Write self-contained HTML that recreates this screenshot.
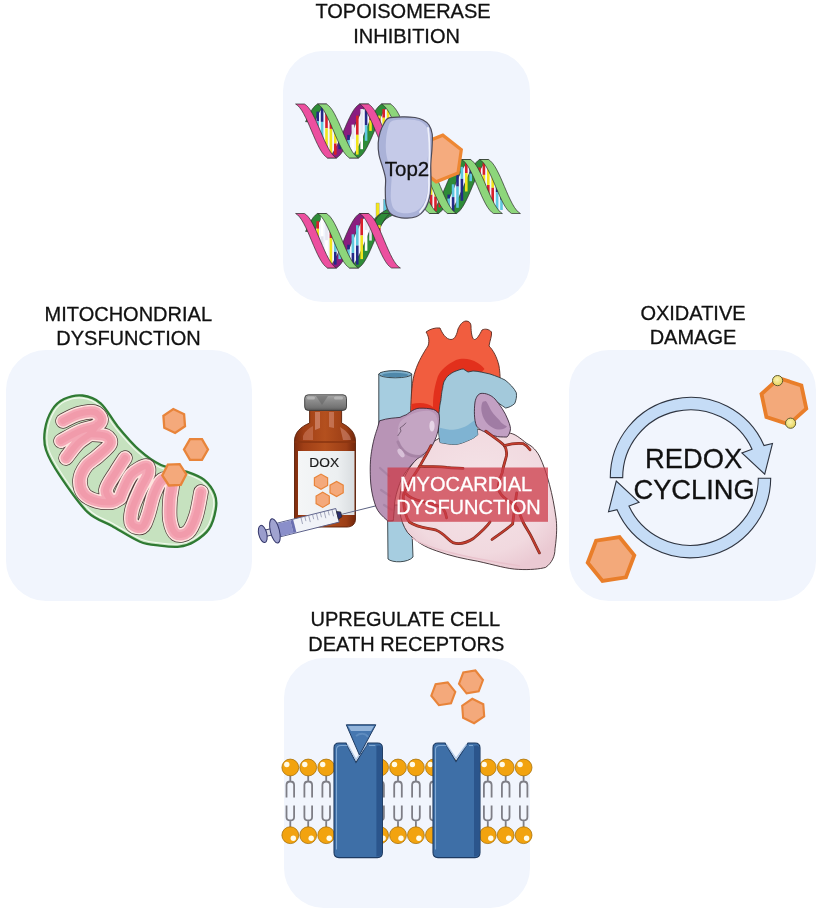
<!DOCTYPE html>
<html><head><meta charset="utf-8"><style>
html,body{margin:0;padding:0;background:#fff;}
svg{display:block;will-change:transform;font-family:"Liberation Sans",sans-serif;}
</style></head><body>
<svg width="824" height="915" viewBox="0 0 824 915">
<rect x="283" y="51" width="247" height="251" rx="40" fill="#f1f5fd"/>
<rect x="6" y="350" width="246" height="251" rx="40" fill="#f1f5fd"/>
<rect x="569" y="350" width="247" height="251" rx="40" fill="#f1f5fd"/>
<rect x="284" y="658" width="246" height="250" rx="40" fill="#f1f5fd"/>
<text x="403" y="18.4" font-size="20" text-anchor="middle" fill="#111" stroke="#111" stroke-width="0.3">TOPOISOMERASE</text>
<text x="406.6" y="43.1" font-size="20" text-anchor="middle" fill="#111" stroke="#111" stroke-width="0.3">INHIBITION</text>
<text x="128.3" y="320.6" font-size="20" text-anchor="middle" fill="#111" stroke="#111" stroke-width="0.3">MITOCHONDRIAL</text>
<text x="128.5" y="344.9" font-size="20" text-anchor="middle" fill="#111" stroke="#111" stroke-width="0.3">DYSFUNCTION</text>
<text x="693" y="320" font-size="20" text-anchor="middle" fill="#111" stroke="#111" stroke-width="0.3">OXIDATIVE</text>
<text x="693" y="344.3" font-size="20" text-anchor="middle" fill="#111" stroke="#111" stroke-width="0.3">DAMAGE</text>
<text x="405.3" y="625.6" font-size="20" text-anchor="middle" fill="#111" stroke="#111" stroke-width="0.3">UPREGULATE CELL</text>
<text x="406.3" y="650.5" font-size="20" text-anchor="middle" fill="#111" stroke="#111" stroke-width="0.3">DEATH RECEPTORS</text>
<clipPath id="cl1"><rect x="280" y="90" width="120" height="80"/></clipPath>
<clipPath id="cl2"><rect x="280" y="200" width="125" height="80"/></clipPath>
<clipPath id="cl3"><rect x="418" y="150" width="110" height="70"/></clipPath>
<rect x="376" y="203" width="3.2" height="16" fill="#f2e51c" stroke="#777" stroke-width="0.3"/><rect x="383.5" y="199.5" width="3.2" height="15" fill="#5fc8e0" stroke="#777" stroke-width="0.3"/>
<path d="M372,222 C375,218 378,215 382,212.5 C388,209 393,206 399,203 L402,211 C396,213.5 390,216 386,219 C383,222 381,225 379,228 Z" fill="#2e8b38" stroke="#2b2b2b" stroke-width="0.7"/>
<g clip-path="url(#cl1)"><path d="M327.6,158.0 L329.6,156.6 L331.6,154.5 L333.6,151.8 L335.6,148.4 L337.6,144.5 L339.6,140.3 L341.6,135.7 L343.6,131.0 L345.6,126.3 L347.6,121.7 L349.6,117.5 L351.6,113.6 L353.6,110.2 L355.6,107.5 L357.6,105.4 L359.6,104.0 L368.4,104.0 L366.4,105.4 L364.4,107.5 L362.4,110.2 L360.4,113.6 L358.4,117.5 L356.4,121.7 L354.4,126.3 L352.4,131.0 L350.4,135.7 L348.4,140.3 L346.4,144.5 L344.4,148.4 L342.4,151.8 L340.4,154.5 L338.4,156.6 L336.4,158.0 Z" fill="#8a1d80" stroke="#2b2b2b" stroke-width="0.7" stroke-linejoin="round"/><path d="M305.6,121.7 L306.4,120.1 L307.1,118.5 L307.9,117.0 L308.6,115.5 L309.4,114.0 L310.1,112.7 L310.9,111.4 L311.6,110.2 L312.4,109.1 L313.1,108.1 L313.9,107.2 L314.6,106.3 L315.4,105.6 L316.1,105.0 L316.9,104.4 L317.6,104.0 L326.4,104.0 L325.6,104.4 L324.9,105.0 L324.1,105.6 L323.4,106.3 L322.6,107.2 L321.9,108.1 L321.1,109.1 L320.4,110.2 L319.6,111.4 L318.9,112.7 L318.1,114.0 L317.4,115.5 L316.6,117.0 L315.9,118.5 L315.1,120.1 L314.4,121.7 Z" fill="#2e8b38" stroke="#2b2b2b" stroke-width="0.7" stroke-linejoin="round"/><path d="M349.6,158.0 L351.6,156.6 L353.6,154.5 L355.6,151.8 L357.6,148.4 L359.6,144.5 L361.6,140.3 L363.6,135.7 L365.6,131.0 L367.6,126.3 L369.6,121.7 L371.6,117.5 L373.6,113.6 L375.6,110.2 L377.6,107.5 L379.6,105.4 L381.6,104.0 L390.4,104.0 L388.4,105.4 L386.4,107.5 L384.4,110.2 L382.4,113.6 L380.4,117.5 L378.4,121.7 L376.4,126.3 L374.4,131.0 L372.4,135.7 L370.4,140.3 L368.4,144.5 L366.4,148.4 L364.4,151.8 L362.4,154.5 L360.4,156.6 L358.4,158.0 Z" fill="#2e8b38" stroke="#2b2b2b" stroke-width="0.7" stroke-linejoin="round"/><rect x="316.4" y="111.6" width="2.6" height="9.8" fill="#232a86"/><rect x="316.4" y="121.4" width="2.6" height="8.5" fill="#5fc8e0"/><rect x="320.8" y="106.7" width="2.6" height="15.2" fill="#232a86"/><rect x="320.8" y="121.9" width="2.6" height="18.1" fill="#5fc8e0"/><rect x="325.2" y="108.5" width="2.6" height="19.6" fill="#d8202a"/><rect x="325.2" y="128.2" width="2.6" height="20.3" fill="#f2e51c"/><rect x="329.6" y="114.9" width="2.6" height="14.0" fill="#d8202a"/><rect x="329.6" y="128.9" width="2.6" height="25.4" fill="#f2e51c"/><rect x="334.0" y="123.7" width="2.6" height="19.7" fill="#f2e51c"/><rect x="334.0" y="143.5" width="2.6" height="11.2" fill="#d8202a"/><rect x="338.4" y="133.9" width="2.6" height="6.2" fill="#5fc8e0"/><rect x="338.4" y="140.2" width="2.6" height="9.0" fill="#232a86"/><rect x="347.2" y="134.9" width="2.6" height="5.2" fill="#232a86"/><rect x="347.2" y="140.1" width="2.6" height="8.4" fill="#5fc8e0"/><rect x="351.6" y="124.6" width="2.6" height="14.5" fill="#e8e8f2"/><rect x="351.6" y="139.1" width="2.6" height="15.1" fill="#ffffff"/><rect x="356.0" y="115.6" width="2.6" height="19.2" fill="#d8202a"/><rect x="356.0" y="134.8" width="2.6" height="19.8" fill="#f2e51c"/><rect x="360.4" y="109.0" width="2.6" height="24.9" fill="#e8e8f2"/><rect x="360.4" y="133.9" width="2.6" height="15.3" fill="#ffffff"/><rect x="364.8" y="106.5" width="2.6" height="18.8" fill="#232a86"/><rect x="364.8" y="125.2" width="2.6" height="15.6" fill="#5fc8e0"/><rect x="369.2" y="111.0" width="2.6" height="9.1" fill="#d8202a"/><rect x="369.2" y="120.2" width="2.6" height="10.7" fill="#f2e51c"/><rect x="373.6" y="118.7" width="2.6" height="1.3" fill="#f2e51c"/><rect x="373.6" y="120.0" width="2.6" height="0.7" fill="#d8202a"/><rect x="378.0" y="115.6" width="2.6" height="3.1" fill="#f2e51c"/><rect x="378.0" y="118.6" width="2.6" height="5.7" fill="#d8202a"/><rect x="382.4" y="109.0" width="2.6" height="8.8" fill="#d8202a"/><rect x="382.4" y="117.7" width="2.6" height="16.9" fill="#f2e51c"/><rect x="386.8" y="106.5" width="2.6" height="22.9" fill="#f2e51c"/><rect x="386.8" y="129.3" width="2.6" height="14.8" fill="#d8202a"/><rect x="391.2" y="111.0" width="2.6" height="19.9" fill="#ffffff"/><rect x="391.2" y="130.9" width="2.6" height="20.6" fill="#e4e4ee"/><rect x="395.6" y="118.7" width="2.6" height="23.8" fill="#e8e8f2"/><rect x="395.6" y="142.4" width="2.6" height="13.4" fill="#ffffff"/><rect x="400.0" y="128.3" width="2.6" height="13.9" fill="#5fc8e0"/><rect x="400.0" y="142.2" width="2.6" height="10.3" fill="#232a86"/><path d="M295.6,104.0 L297.6,105.4 L299.6,107.5 L301.6,110.2 L303.6,113.6 L305.6,117.5 L307.6,121.7 L309.6,126.3 L311.6,131.0 L313.6,135.7 L315.6,140.3 L317.6,144.5 L319.6,148.4 L321.6,151.8 L323.6,154.5 L325.6,156.6 L327.6,158.0 L336.4,158.0 L334.4,156.6 L332.4,154.5 L330.4,151.8 L328.4,148.4 L326.4,144.5 L324.4,140.3 L322.4,135.7 L320.4,131.0 L318.4,126.3 L316.4,121.7 L314.4,117.5 L312.4,113.6 L310.4,110.2 L308.4,107.5 L306.4,105.4 L304.4,104.0 Z" fill="#ec4f9f" stroke="#2b2b2b" stroke-width="0.7" stroke-linejoin="round"/><path d="M359.6,104.0 L361.6,105.4 L363.6,107.5 L365.6,110.2 L367.6,113.6 L369.6,117.5 L371.6,121.7 L373.6,126.3 L375.6,131.0 L377.6,135.7 L379.6,140.3 L381.6,144.5 L383.6,148.4 L385.6,151.8 L387.6,154.5 L389.6,156.6 L391.6,158.0 L400.4,158.0 L398.4,156.6 L396.4,154.5 L394.4,151.8 L392.4,148.4 L390.4,144.5 L388.4,140.3 L386.4,135.7 L384.4,131.0 L382.4,126.3 L380.4,121.7 L378.4,117.5 L376.4,113.6 L374.4,110.2 L372.4,107.5 L370.4,105.4 L368.4,104.0 Z" fill="#ec4f9f" stroke="#2b2b2b" stroke-width="0.7" stroke-linejoin="round"/><path d="M317.6,104.0 L319.6,105.4 L321.6,107.5 L323.6,110.2 L325.6,113.6 L327.6,117.5 L329.6,121.7 L331.6,126.3 L333.6,131.0 L335.6,135.7 L337.6,140.3 L339.6,144.5 L341.6,148.4 L343.6,151.8 L345.6,154.5 L347.6,156.6 L349.6,158.0 L358.4,158.0 L356.4,156.6 L354.4,154.5 L352.4,151.8 L350.4,148.4 L348.4,144.5 L346.4,140.3 L344.4,135.7 L342.4,131.0 L340.4,126.3 L338.4,121.7 L336.4,117.5 L334.4,113.6 L332.4,110.2 L330.4,107.5 L328.4,105.4 L326.4,104.0 Z" fill="#8dd67b" stroke="#2b2b2b" stroke-width="0.7" stroke-linejoin="round"/><path d="M381.6,104.0 L383.6,105.4 L385.6,107.5 L387.6,110.2 L389.6,113.6 L391.6,117.5 L393.6,121.7 L395.6,126.3 L397.6,131.0 L399.6,135.7 L401.6,140.3 L403.6,144.5 L405.6,148.4 L407.6,151.8 L409.6,154.5 L411.6,156.6 L413.6,158.0 L422.4,158.0 L420.4,156.6 L418.4,154.5 L416.4,151.8 L414.4,148.4 L412.4,144.5 L410.4,140.3 L408.4,135.7 L406.4,131.0 L404.4,126.3 L402.4,121.7 L400.4,117.5 L398.4,113.6 L396.4,110.2 L394.4,107.5 L392.4,105.4 L390.4,104.0 Z" fill="#8dd67b" stroke="#2b2b2b" stroke-width="0.7" stroke-linejoin="round"/></g>
<g clip-path="url(#cl2)"><path d="M327.6,268.0 L329.6,266.6 L331.6,264.5 L333.6,261.7 L335.6,258.3 L337.6,254.4 L339.6,250.1 L341.6,245.5 L343.6,240.8 L345.6,236.0 L347.6,231.4 L349.6,227.1 L351.6,223.2 L353.6,219.8 L355.6,217.0 L357.6,214.9 L359.6,213.5 L368.4,213.5 L366.4,214.9 L364.4,217.0 L362.4,219.8 L360.4,223.2 L358.4,227.1 L356.4,231.4 L354.4,236.0 L352.4,240.8 L350.4,245.5 L348.4,250.1 L346.4,254.4 L344.4,258.3 L342.4,261.7 L340.4,264.5 L338.4,266.6 L336.4,268.0 Z" fill="#8a1d80" stroke="#2b2b2b" stroke-width="0.7" stroke-linejoin="round"/><path d="M305.6,231.4 L306.4,229.7 L307.1,228.1 L307.9,226.6 L308.6,225.1 L309.4,223.6 L310.1,222.3 L310.9,221.0 L311.6,219.8 L312.4,218.7 L313.1,217.6 L313.9,216.7 L314.6,215.9 L315.4,215.1 L316.1,214.5 L316.9,213.9 L317.6,213.5 L326.4,213.5 L325.6,213.9 L324.9,214.5 L324.1,215.1 L323.4,215.9 L322.6,216.7 L321.9,217.6 L321.1,218.7 L320.4,219.8 L319.6,221.0 L318.9,222.3 L318.1,223.6 L317.4,225.1 L316.6,226.6 L315.9,228.1 L315.1,229.7 L314.4,231.4 Z" fill="#2e8b38" stroke="#2b2b2b" stroke-width="0.7" stroke-linejoin="round"/><path d="M349.6,268.0 L351.6,266.6 L353.6,264.5 L355.6,261.7 L357.6,258.3 L359.6,254.4 L361.6,250.1 L363.6,245.5 L365.6,240.8 L367.6,236.0 L369.6,231.4 L371.6,227.1 L373.6,223.2 L375.6,219.8 L377.6,217.0 L379.6,214.9 L381.6,213.5 L390.4,213.5 L388.4,214.9 L386.4,217.0 L384.4,219.8 L382.4,223.2 L380.4,227.1 L378.4,231.4 L376.4,236.0 L374.4,240.8 L372.4,245.5 L370.4,250.1 L368.4,254.4 L366.4,258.3 L364.4,261.7 L362.4,264.5 L360.4,266.6 L358.4,268.0 Z" fill="#2e8b38" stroke="#2b2b2b" stroke-width="0.7" stroke-linejoin="round"/><rect x="316.4" y="221.2" width="2.6" height="7.6" fill="#d8202a"/><rect x="316.4" y="228.8" width="2.6" height="10.9" fill="#f2e51c"/><rect x="320.8" y="216.2" width="2.6" height="20.1" fill="#ffffff"/><rect x="320.8" y="236.4" width="2.6" height="13.5" fill="#e4e4ee"/><rect x="325.2" y="218.1" width="2.6" height="22.2" fill="#e8e8f2"/><rect x="325.2" y="240.3" width="2.6" height="18.2" fill="#ffffff"/><rect x="329.6" y="224.5" width="2.6" height="13.7" fill="#d8202a"/><rect x="329.6" y="238.2" width="2.6" height="26.1" fill="#f2e51c"/><rect x="334.0" y="233.4" width="2.6" height="18.5" fill="#5fc8e0"/><rect x="334.0" y="251.9" width="2.6" height="12.7" fill="#232a86"/><rect x="338.4" y="243.7" width="2.6" height="8.6" fill="#232a86"/><rect x="338.4" y="252.3" width="2.6" height="6.8" fill="#5fc8e0"/><rect x="347.2" y="244.7" width="2.6" height="4.8" fill="#232a86"/><rect x="347.2" y="249.5" width="2.6" height="9.0" fill="#5fc8e0"/><rect x="351.6" y="234.3" width="2.6" height="18.7" fill="#5fc8e0"/><rect x="351.6" y="253.0" width="2.6" height="11.2" fill="#232a86"/><rect x="356.0" y="225.2" width="2.6" height="20.3" fill="#5fc8e0"/><rect x="356.0" y="245.5" width="2.6" height="19.1" fill="#232a86"/><rect x="360.4" y="218.5" width="2.6" height="16.9" fill="#d8202a"/><rect x="360.4" y="235.5" width="2.6" height="23.6" fill="#f2e51c"/><rect x="364.8" y="216.0" width="2.6" height="14.1" fill="#e8e8f2"/><rect x="364.8" y="230.1" width="2.6" height="20.7" fill="#ffffff"/><rect x="369.2" y="220.6" width="2.6" height="7.7" fill="#ffffff"/><rect x="369.2" y="228.3" width="2.6" height="12.3" fill="#e4e4ee"/><rect x="373.6" y="228.3" width="2.6" height="0.4" fill="#5fc8e0"/><rect x="373.6" y="228.7" width="2.6" height="1.6" fill="#232a86"/><rect x="378.0" y="225.2" width="2.6" height="3.0" fill="#f2e51c"/><rect x="378.0" y="228.2" width="2.6" height="5.8" fill="#d8202a"/><path d="M295.6,213.5 L297.6,214.9 L299.6,217.0 L301.6,219.8 L303.6,223.2 L305.6,227.1 L307.6,231.4 L309.6,236.0 L311.6,240.8 L313.6,245.5 L315.6,250.1 L317.6,254.4 L319.6,258.3 L321.6,261.7 L323.6,264.5 L325.6,266.6 L327.6,268.0 L336.4,268.0 L334.4,266.6 L332.4,264.5 L330.4,261.7 L328.4,258.3 L326.4,254.4 L324.4,250.1 L322.4,245.5 L320.4,240.8 L318.4,236.0 L316.4,231.4 L314.4,227.1 L312.4,223.2 L310.4,219.8 L308.4,217.0 L306.4,214.9 L304.4,213.5 Z" fill="#ec4f9f" stroke="#2b2b2b" stroke-width="0.7" stroke-linejoin="round"/><path d="M359.6,213.5 L361.6,214.9 L363.6,217.0 L365.6,219.8 L367.6,223.2 L369.6,227.1 L371.6,231.4 L373.6,236.0 L375.6,240.8 L377.6,245.5 L379.6,250.1 L381.6,254.4 L383.6,258.3 L385.6,261.7 L387.6,264.5 L389.6,266.6 L391.6,268.0 L400.4,268.0 L398.4,266.6 L396.4,264.5 L394.4,261.7 L392.4,258.3 L390.4,254.4 L388.4,250.1 L386.4,245.5 L384.4,240.8 L382.4,236.0 L380.4,231.4 L378.4,227.1 L376.4,223.2 L374.4,219.8 L372.4,217.0 L370.4,214.9 L368.4,213.5 Z" fill="#ec4f9f" stroke="#2b2b2b" stroke-width="0.7" stroke-linejoin="round"/><path d="M317.6,213.5 L319.6,214.9 L321.6,217.0 L323.6,219.8 L325.6,223.2 L327.6,227.1 L329.6,231.4 L331.6,236.0 L333.6,240.8 L335.6,245.5 L337.6,250.1 L339.6,254.4 L341.6,258.3 L343.6,261.7 L345.6,264.5 L347.6,266.6 L349.6,268.0 L358.4,268.0 L356.4,266.6 L354.4,264.5 L352.4,261.7 L350.4,258.3 L348.4,254.4 L346.4,250.1 L344.4,245.5 L342.4,240.8 L340.4,236.0 L338.4,231.4 L336.4,227.1 L334.4,223.2 L332.4,219.8 L330.4,217.0 L328.4,214.9 L326.4,213.5 Z" fill="#8dd67b" stroke="#2b2b2b" stroke-width="0.7" stroke-linejoin="round"/></g>
<g clip-path="url(#cl3)"><path d="M429.6,213.5 L431.6,212.1 L433.6,210.0 L435.6,207.3 L437.6,203.9 L439.6,200.0 L441.6,195.8 L443.6,191.2 L445.6,186.5 L447.6,181.8 L449.6,177.2 L451.6,173.0 L453.6,169.1 L455.6,165.7 L457.6,163.0 L459.6,160.9 L461.6,159.5 L470.4,159.5 L468.4,160.9 L466.4,163.0 L464.4,165.7 L462.4,169.1 L460.4,173.0 L458.4,177.2 L456.4,181.8 L454.4,186.5 L452.4,191.2 L450.4,195.8 L448.4,200.0 L446.4,203.9 L444.4,207.3 L442.4,210.0 L440.4,212.1 L438.4,213.5 Z" fill="#2e8b38" stroke="#2b2b2b" stroke-width="0.7" stroke-linejoin="round"/><path d="M447.6,213.5 L449.6,212.1 L451.6,210.0 L453.6,207.3 L455.6,203.9 L457.6,200.0 L459.6,195.8 L461.6,191.2 L463.6,186.5 L465.6,181.8 L467.6,177.2 L469.6,173.0 L471.6,169.1 L473.6,165.7 L475.6,163.0 L477.6,160.9 L479.6,159.5 L488.4,159.5 L486.4,160.9 L484.4,163.0 L482.4,165.7 L480.4,169.1 L478.4,173.0 L476.4,177.2 L474.4,181.8 L472.4,186.5 L470.4,191.2 L468.4,195.8 L466.4,200.0 L464.4,203.9 L462.4,207.3 L460.4,210.0 L458.4,212.1 L456.4,213.5 Z" fill="#2e8b38" stroke="#2b2b2b" stroke-width="0.7" stroke-linejoin="round"/><rect x="421.0" y="162.1" width="2.6" height="19.2" fill="#ffffff"/><rect x="421.0" y="181.3" width="2.6" height="10.2" fill="#e4e4ee"/><rect x="425.4" y="166.8" width="2.6" height="18.7" fill="#5fc8e0"/><rect x="425.4" y="185.5" width="2.6" height="15.3" fill="#232a86"/><rect x="429.8" y="174.6" width="2.6" height="20.2" fill="#f2e51c"/><rect x="429.8" y="194.8" width="2.6" height="13.0" fill="#d8202a"/><rect x="434.2" y="184.3" width="2.6" height="12.3" fill="#f2e51c"/><rect x="434.2" y="196.6" width="2.6" height="14.8" fill="#d8202a"/><rect x="438.6" y="194.6" width="2.6" height="8.4" fill="#f2e51c"/><rect x="438.6" y="203.0" width="2.6" height="4.3" fill="#d8202a"/><rect x="447.4" y="194.6" width="2.6" height="4.0" fill="#232a86"/><rect x="447.4" y="198.6" width="2.6" height="8.7" fill="#5fc8e0"/><rect x="451.8" y="184.3" width="2.6" height="12.8" fill="#5fc8e0"/><rect x="451.8" y="197.1" width="2.6" height="14.3" fill="#232a86"/><rect x="456.2" y="174.6" width="2.6" height="12.0" fill="#232a86"/><rect x="456.2" y="186.6" width="2.6" height="21.2" fill="#5fc8e0"/><rect x="460.6" y="166.8" width="2.6" height="12.0" fill="#5fc8e0"/><rect x="460.6" y="178.8" width="2.6" height="22.0" fill="#232a86"/><rect x="465.0" y="162.1" width="2.6" height="10.9" fill="#d8202a"/><rect x="465.0" y="173.0" width="2.6" height="18.5" fill="#f2e51c"/><rect x="469.4" y="164.3" width="2.6" height="9.3" fill="#232a86"/><rect x="469.4" y="173.6" width="2.6" height="7.6" fill="#5fc8e0"/><rect x="478.2" y="167.4" width="2.6" height="5.8" fill="#d8202a"/><rect x="478.2" y="173.2" width="2.6" height="2.5" fill="#f2e51c"/><rect x="482.6" y="162.4" width="2.6" height="12.5" fill="#d8202a"/><rect x="482.6" y="174.9" width="2.6" height="11.1" fill="#f2e51c"/><rect x="487.0" y="163.8" width="2.6" height="21.2" fill="#f2e51c"/><rect x="487.0" y="185.0" width="2.6" height="10.9" fill="#d8202a"/><rect x="491.4" y="170.0" width="2.6" height="17.8" fill="#f2e51c"/><rect x="491.4" y="187.8" width="2.6" height="16.5" fill="#d8202a"/><rect x="495.8" y="178.8" width="2.6" height="13.4" fill="#232a86"/><rect x="495.8" y="192.2" width="2.6" height="17.8" fill="#5fc8e0"/><rect x="500.2" y="189.0" width="2.6" height="10.8" fill="#232a86"/><rect x="500.2" y="199.8" width="2.6" height="10.2" fill="#5fc8e0"/><rect x="504.6" y="199.1" width="2.6" height="2.1" fill="#d8202a"/><rect x="504.6" y="201.2" width="2.6" height="3.2" fill="#f2e51c"/><path d="M397.6,159.5 L399.6,160.9 L401.6,163.0 L403.6,165.7 L405.6,169.1 L407.6,173.0 L409.6,177.2 L411.6,181.8 L413.6,186.5 L415.6,191.2 L417.6,195.8 L419.6,200.0 L421.6,203.9 L423.6,207.3 L425.6,210.0 L427.6,212.1 L429.6,213.5 L438.4,213.5 L436.4,212.1 L434.4,210.0 L432.4,207.3 L430.4,203.9 L428.4,200.0 L426.4,195.8 L424.4,191.2 L422.4,186.5 L420.4,181.8 L418.4,177.2 L416.4,173.0 L414.4,169.1 L412.4,165.7 L410.4,163.0 L408.4,160.9 L406.4,159.5 Z" fill="#8dd67b" stroke="#2b2b2b" stroke-width="0.7" stroke-linejoin="round"/><path d="M461.6,159.5 L463.6,160.9 L465.6,163.0 L467.6,165.7 L469.6,169.1 L471.6,173.0 L473.6,177.2 L475.6,181.8 L477.6,186.5 L479.6,191.2 L481.6,195.8 L483.6,200.0 L485.6,203.9 L487.6,207.3 L489.6,210.0 L491.6,212.1 L493.6,213.5 L502.4,213.5 L500.4,212.1 L498.4,210.0 L496.4,207.3 L494.4,203.9 L492.4,200.0 L490.4,195.8 L488.4,191.2 L486.4,186.5 L484.4,181.8 L482.4,177.2 L480.4,173.0 L478.4,169.1 L476.4,165.7 L474.4,163.0 L472.4,160.9 L470.4,159.5 Z" fill="#8dd67b" stroke="#2b2b2b" stroke-width="0.7" stroke-linejoin="round"/><path d="M415.6,159.5 L417.6,160.9 L419.6,163.0 L421.6,165.7 L423.6,169.1 L425.6,173.0 L427.6,177.2 L429.6,181.8 L431.6,186.5 L433.6,191.2 L435.6,195.8 L437.6,200.0 L439.6,203.9 L441.6,207.3 L443.6,210.0 L445.6,212.1 L447.6,213.5 L456.4,213.5 L454.4,212.1 L452.4,210.0 L450.4,207.3 L448.4,203.9 L446.4,200.0 L444.4,195.8 L442.4,191.2 L440.4,186.5 L438.4,181.8 L436.4,177.2 L434.4,173.0 L432.4,169.1 L430.4,165.7 L428.4,163.0 L426.4,160.9 L424.4,159.5 Z" fill="#8dd67b" stroke="#2b2b2b" stroke-width="0.7" stroke-linejoin="round"/><path d="M479.6,159.5 L481.6,160.9 L483.6,163.0 L485.6,165.7 L487.6,169.1 L489.6,173.0 L491.6,177.2 L493.6,181.8 L495.6,186.5 L497.6,191.2 L499.6,195.8 L501.6,200.0 L503.6,203.9 L505.6,207.3 L507.6,210.0 L509.6,212.1 L511.6,213.5 L520.4,213.5 L518.4,212.1 L516.4,210.0 L514.4,207.3 L512.4,203.9 L510.4,200.0 L508.4,195.8 L506.4,191.2 L504.4,186.5 L502.4,181.8 L500.4,177.2 L498.4,173.0 L496.4,169.1 L494.4,165.7 L492.4,163.0 L490.4,160.9 L488.4,159.5 Z" fill="#8dd67b" stroke="#2b2b2b" stroke-width="0.7" stroke-linejoin="round"/></g>
<polygon points="458.0,173.0 436.2,181.8 417.7,167.3 421.0,144.0 442.8,135.2 461.3,149.7" fill="#f5ab7e" stroke="#ee8733" stroke-width="3.2" stroke-linejoin="miter"/>
<path d="M388.4,118.1 C391.5,117.0 398.4,116.9 402.8,116.8 C407.2,116.7 411.6,117.0 415.0,117.5 C418.4,118.0 420.7,118.8 423.0,120.0 C425.3,121.2 427.5,122.7 429.0,125.0 C430.5,127.3 431.7,130.1 432.2,134.0 C432.7,137.9 432.2,143.3 432.0,148.3 C431.8,153.3 431.0,158.1 430.8,164.0 C430.6,169.9 431.2,178.2 431.0,183.7 C430.8,189.2 430.7,192.6 429.7,196.8 C428.7,201.0 427.3,205.7 425.0,209.0 C422.7,212.3 419.9,215.3 416.0,216.8 C412.1,218.3 405.7,218.3 401.5,217.8 C397.3,217.3 393.6,216.1 391.0,214.0 C388.4,211.9 387.1,209.0 386.2,205.0 C385.2,201.0 385.4,194.6 385.3,190.2 C385.2,185.8 386.0,182.3 385.5,178.4 C385.0,174.5 383.6,170.5 382.5,166.6 C381.4,162.7 379.7,158.9 379.0,155.0 C378.3,151.1 378.0,146.8 378.2,143.0 C378.4,139.2 379.2,135.2 380.2,132.0 C381.2,128.8 382.6,125.8 384.0,123.5 C385.4,121.2 385.3,119.2 388.4,118.1 Z" fill="#aab2d8" stroke="#4a4a58" stroke-width="1.2"/>
<path d="M392.0,121.0 C394.8,119.6 400.8,119.6 405.0,119.5 C409.2,119.4 413.8,119.8 417.0,120.5 C420.2,121.2 422.2,122.2 424.0,124.0 C425.8,125.8 427.2,127.0 428.0,131.0 C428.8,135.0 428.6,142.5 428.5,148.0 C428.4,153.5 427.6,158.2 427.5,164.0 C427.4,169.8 428.2,177.7 428.0,183.0 C427.8,188.3 427.5,192.2 426.5,196.0 C425.5,199.8 424.1,203.3 422.0,206.0 C419.9,208.7 417.3,210.8 414.0,212.0 C410.7,213.2 405.3,213.5 402.0,213.0 C398.7,212.5 395.8,211.2 394.0,209.0 C392.2,206.8 391.5,203.5 391.0,200.0 C390.5,196.5 390.9,192.0 391.0,188.0 C391.1,184.0 391.9,180.0 391.5,176.0 C391.1,172.0 389.4,168.0 388.5,164.0 C387.6,160.0 386.4,156.0 386.0,152.0 C385.6,148.0 385.7,144.0 386.0,140.0 C386.3,136.0 387.0,131.2 388.0,128.0 C389.0,124.8 389.2,122.4 392.0,121.0 Z" fill="#c5cae8"/>
<path d="M428,128 C431,145 428.5,165 429,185 C429,197 426,206 420,212" fill="none" stroke="#eef0fb" stroke-width="1.8" stroke-linecap="round"/>
<text x="407" y="175.8" font-size="20.5" text-anchor="middle" fill="#111" stroke="#111" stroke-width="0.3">Top2</text>
<path d="M82.5,395.5 C88.6,396.2 94.8,398.2 100.7,403.3 C106.6,408.4 111.2,418.5 117.7,426.4 C124.2,434.3 132.8,444.3 140.0,450.7 C147.2,457.1 153.1,461.5 161.0,465.0 C168.9,468.5 180.0,469.4 187.2,471.8 C194.4,474.2 199.4,475.9 204.0,479.7 C208.6,483.5 212.8,489.5 214.8,494.4 C216.8,499.3 216.8,503.4 215.8,509.2 C214.8,515.0 212.6,523.6 209.0,529.0 C205.4,534.4 199.0,538.8 194.1,541.7 C189.2,544.6 185.1,546.0 179.4,546.6 C173.7,547.2 166.3,546.4 159.7,545.6 C153.1,544.8 147.9,545.0 140.0,541.7 C132.1,538.4 120.8,531.0 112.0,526.0 C103.2,521.0 96.0,520.2 87.3,511.9 C78.6,503.5 66.9,486.2 60.0,475.9 C53.1,465.6 48.5,457.6 46.0,450.0 C43.5,442.4 43.9,436.7 44.9,430.0 C45.9,423.3 48.8,415.2 52.0,410.0 C55.2,404.8 58.9,401.4 64.0,399.0 C69.1,396.6 76.4,394.8 82.5,395.5 Z" fill="#c6e2bf" stroke="#2f7a33" stroke-width="2.3"/>
<path d="M82.2,398.1 C87.8,398.7 93.4,400.3 99.0,405.3 C104.6,410.3 109.2,420.2 115.7,428.1 C122.2,436.0 130.9,446.1 138.3,452.6 C145.6,459.2 151.9,463.8 159.9,467.4 C168.0,471.0 179.3,471.9 186.4,474.3 C193.4,476.6 198.0,478.2 202.4,481.7 C206.7,485.2 210.6,490.9 212.4,495.4 C214.2,499.9 214.2,503.4 213.2,508.8 C212.3,514.1 210.2,522.4 206.8,527.6 C203.4,532.7 197.4,536.7 192.8,539.5 C188.1,542.2 184.6,543.4 179.1,544.0 C173.6,544.6 166.4,543.8 160.0,543.0 C153.7,542.2 148.8,542.5 141.0,539.3 C133.2,536.1 121.9,528.6 113.3,523.7 C104.6,518.9 97.6,518.2 89.1,510.0 C80.6,501.8 68.9,484.6 62.2,474.5 C55.4,464.3 50.9,456.5 48.5,449.2 C46.0,441.8 46.5,436.7 47.5,430.4 C48.4,424.1 51.3,416.2 54.2,411.4 C57.2,406.5 60.5,403.6 65.1,401.3 C69.8,399.1 76.6,397.4 82.2,398.1 Z" fill="none" stroke="#f2fbef" stroke-width="1.1"/>
<path d="M63.0,421.0 C65.5,419.8 72.8,415.5 78.0,414.0 C83.2,412.5 90.2,411.2 94.0,412.0 C97.8,412.8 100.7,416.7 101.0,419.0 C101.3,421.3 99.5,424.0 96.0,426.0 C92.5,428.0 85.8,428.5 80.0,431.0 C74.2,433.5 64.2,439.3 61.0,441.0  M97.0,425.0 C95.8,426.5 93.2,431.0 90.0,434.0 C86.8,437.0 82.0,439.0 78.0,443.0 C74.0,447.0 68.0,455.5 66.0,458.0  M90.0,434.0 C92.7,434.3 102.7,434.3 106.0,436.0 C109.3,437.7 111.3,440.7 110.0,444.0 C108.7,447.3 102.0,452.3 98.0,456.0 C94.0,459.7 89.0,462.0 86.0,466.0 C83.0,470.0 80.3,475.3 80.0,480.0 C79.7,484.7 81.2,490.5 84.0,494.0 C86.8,497.5 92.3,499.7 97.0,501.0 C101.7,502.3 108.2,502.5 112.0,502.0 C115.8,501.5 118.7,498.7 120.0,498.0  M112.0,502.0 C111.0,500.0 105.3,495.0 106.0,490.0 C106.7,485.0 112.8,477.3 116.0,472.0 C119.2,466.7 123.5,460.3 125.0,458.0  M120.0,498.0 C120.7,496.3 122.0,492.0 124.0,488.0 C126.0,484.0 128.3,477.7 132.0,474.0 C135.7,470.3 143.3,466.0 146.0,466.0 C148.7,466.0 149.0,470.0 148.0,474.0 C147.0,478.0 142.7,484.0 140.0,490.0 C137.3,496.0 133.3,504.3 132.0,510.0 C130.7,515.7 130.3,521.2 132.0,524.0 C133.7,526.8 139.3,528.5 142.0,527.0 C144.7,525.5 146.0,520.5 148.0,515.0 C150.0,509.5 151.7,499.8 154.0,494.0 C156.3,488.2 159.0,482.0 162.0,480.0 C165.0,478.0 170.7,478.7 172.0,482.0 C173.3,485.3 170.3,493.7 170.0,500.0 C169.7,506.3 169.0,514.3 170.0,520.0 C171.0,525.7 173.0,532.0 176.0,534.0 C179.0,536.0 184.7,535.0 188.0,532.0 C191.3,529.0 193.8,522.7 196.0,516.0 C198.2,509.3 200.2,496.0 201.0,492.0 " fill="none" stroke="#4e3a3a" stroke-width="15.4" stroke-linecap="round" stroke-linejoin="round"/>
<path d="M63.0,421.0 C65.5,419.8 72.8,415.5 78.0,414.0 C83.2,412.5 90.2,411.2 94.0,412.0 C97.8,412.8 100.7,416.7 101.0,419.0 C101.3,421.3 99.5,424.0 96.0,426.0 C92.5,428.0 85.8,428.5 80.0,431.0 C74.2,433.5 64.2,439.3 61.0,441.0  M97.0,425.0 C95.8,426.5 93.2,431.0 90.0,434.0 C86.8,437.0 82.0,439.0 78.0,443.0 C74.0,447.0 68.0,455.5 66.0,458.0  M90.0,434.0 C92.7,434.3 102.7,434.3 106.0,436.0 C109.3,437.7 111.3,440.7 110.0,444.0 C108.7,447.3 102.0,452.3 98.0,456.0 C94.0,459.7 89.0,462.0 86.0,466.0 C83.0,470.0 80.3,475.3 80.0,480.0 C79.7,484.7 81.2,490.5 84.0,494.0 C86.8,497.5 92.3,499.7 97.0,501.0 C101.7,502.3 108.2,502.5 112.0,502.0 C115.8,501.5 118.7,498.7 120.0,498.0  M112.0,502.0 C111.0,500.0 105.3,495.0 106.0,490.0 C106.7,485.0 112.8,477.3 116.0,472.0 C119.2,466.7 123.5,460.3 125.0,458.0  M120.0,498.0 C120.7,496.3 122.0,492.0 124.0,488.0 C126.0,484.0 128.3,477.7 132.0,474.0 C135.7,470.3 143.3,466.0 146.0,466.0 C148.7,466.0 149.0,470.0 148.0,474.0 C147.0,478.0 142.7,484.0 140.0,490.0 C137.3,496.0 133.3,504.3 132.0,510.0 C130.7,515.7 130.3,521.2 132.0,524.0 C133.7,526.8 139.3,528.5 142.0,527.0 C144.7,525.5 146.0,520.5 148.0,515.0 C150.0,509.5 151.7,499.8 154.0,494.0 C156.3,488.2 159.0,482.0 162.0,480.0 C165.0,478.0 170.7,478.7 172.0,482.0 C173.3,485.3 170.3,493.7 170.0,500.0 C169.7,506.3 169.0,514.3 170.0,520.0 C171.0,525.7 173.0,532.0 176.0,534.0 C179.0,536.0 184.7,535.0 188.0,532.0 C191.3,529.0 193.8,522.7 196.0,516.0 C198.2,509.3 200.2,496.0 201.0,492.0 " fill="none" stroke="#fde3de" stroke-width="14" stroke-linecap="round" stroke-linejoin="round"/>
<path d="M63.0,421.0 C65.5,419.8 72.8,415.5 78.0,414.0 C83.2,412.5 90.2,411.2 94.0,412.0 C97.8,412.8 100.7,416.7 101.0,419.0 C101.3,421.3 99.5,424.0 96.0,426.0 C92.5,428.0 85.8,428.5 80.0,431.0 C74.2,433.5 64.2,439.3 61.0,441.0  M97.0,425.0 C95.8,426.5 93.2,431.0 90.0,434.0 C86.8,437.0 82.0,439.0 78.0,443.0 C74.0,447.0 68.0,455.5 66.0,458.0  M90.0,434.0 C92.7,434.3 102.7,434.3 106.0,436.0 C109.3,437.7 111.3,440.7 110.0,444.0 C108.7,447.3 102.0,452.3 98.0,456.0 C94.0,459.7 89.0,462.0 86.0,466.0 C83.0,470.0 80.3,475.3 80.0,480.0 C79.7,484.7 81.2,490.5 84.0,494.0 C86.8,497.5 92.3,499.7 97.0,501.0 C101.7,502.3 108.2,502.5 112.0,502.0 C115.8,501.5 118.7,498.7 120.0,498.0  M112.0,502.0 C111.0,500.0 105.3,495.0 106.0,490.0 C106.7,485.0 112.8,477.3 116.0,472.0 C119.2,466.7 123.5,460.3 125.0,458.0  M120.0,498.0 C120.7,496.3 122.0,492.0 124.0,488.0 C126.0,484.0 128.3,477.7 132.0,474.0 C135.7,470.3 143.3,466.0 146.0,466.0 C148.7,466.0 149.0,470.0 148.0,474.0 C147.0,478.0 142.7,484.0 140.0,490.0 C137.3,496.0 133.3,504.3 132.0,510.0 C130.7,515.7 130.3,521.2 132.0,524.0 C133.7,526.8 139.3,528.5 142.0,527.0 C144.7,525.5 146.0,520.5 148.0,515.0 C150.0,509.5 151.7,499.8 154.0,494.0 C156.3,488.2 159.0,482.0 162.0,480.0 C165.0,478.0 170.7,478.7 172.0,482.0 C173.3,485.3 170.3,493.7 170.0,500.0 C169.7,506.3 169.0,514.3 170.0,520.0 C171.0,525.7 173.0,532.0 176.0,534.0 C179.0,536.0 184.7,535.0 188.0,532.0 C191.3,529.0 193.8,522.7 196.0,516.0 C198.2,509.3 200.2,496.0 201.0,492.0 " fill="none" stroke="#f4a8b6" stroke-width="11" stroke-linecap="round" stroke-linejoin="round"/>
<path d="M63.0,421.0 C65.5,419.8 72.8,415.5 78.0,414.0 C83.2,412.5 90.2,411.2 94.0,412.0 C97.8,412.8 100.7,416.7 101.0,419.0 C101.3,421.3 99.5,424.0 96.0,426.0 C92.5,428.0 85.8,428.5 80.0,431.0 C74.2,433.5 64.2,439.3 61.0,441.0  M97.0,425.0 C95.8,426.5 93.2,431.0 90.0,434.0 C86.8,437.0 82.0,439.0 78.0,443.0 C74.0,447.0 68.0,455.5 66.0,458.0  M90.0,434.0 C92.7,434.3 102.7,434.3 106.0,436.0 C109.3,437.7 111.3,440.7 110.0,444.0 C108.7,447.3 102.0,452.3 98.0,456.0 C94.0,459.7 89.0,462.0 86.0,466.0 C83.0,470.0 80.3,475.3 80.0,480.0 C79.7,484.7 81.2,490.5 84.0,494.0 C86.8,497.5 92.3,499.7 97.0,501.0 C101.7,502.3 108.2,502.5 112.0,502.0 C115.8,501.5 118.7,498.7 120.0,498.0  M112.0,502.0 C111.0,500.0 105.3,495.0 106.0,490.0 C106.7,485.0 112.8,477.3 116.0,472.0 C119.2,466.7 123.5,460.3 125.0,458.0  M120.0,498.0 C120.7,496.3 122.0,492.0 124.0,488.0 C126.0,484.0 128.3,477.7 132.0,474.0 C135.7,470.3 143.3,466.0 146.0,466.0 C148.7,466.0 149.0,470.0 148.0,474.0 C147.0,478.0 142.7,484.0 140.0,490.0 C137.3,496.0 133.3,504.3 132.0,510.0 C130.7,515.7 130.3,521.2 132.0,524.0 C133.7,526.8 139.3,528.5 142.0,527.0 C144.7,525.5 146.0,520.5 148.0,515.0 C150.0,509.5 151.7,499.8 154.0,494.0 C156.3,488.2 159.0,482.0 162.0,480.0 C165.0,478.0 170.7,478.7 172.0,482.0 C173.3,485.3 170.3,493.7 170.0,500.0 C169.7,506.3 169.0,514.3 170.0,520.0 C171.0,525.7 173.0,532.0 176.0,534.0 C179.0,536.0 184.7,535.0 188.0,532.0 C191.3,529.0 193.8,522.7 196.0,516.0 C198.2,509.3 200.2,496.0 201.0,492.0 " fill="none" stroke="#ef95a7" stroke-width="6" stroke-linecap="round" stroke-linejoin="round" opacity="0.7"/>
<polygon points="185.0,426.2 175.1,433.0 164.3,427.8 163.4,415.8 173.3,409.0 184.1,414.2" fill="#f4a97b" stroke="#e8843a" stroke-width="2.3" stroke-linejoin="miter"/>
<polygon points="208.0,449.5 202.0,459.9 190.0,459.9 184.0,449.5 190.0,439.1 202.0,439.1" fill="#f4a97b" stroke="#e8843a" stroke-width="2.3" stroke-linejoin="miter"/>
<polygon points="186.3,474.2 180.8,484.9 168.9,485.5 162.3,475.4 167.8,464.7 179.7,464.1" fill="#f4a97b" stroke="#e8843a" stroke-width="2.3" stroke-linejoin="miter"/>
<defs><linearGradient id="vg" x1="0" x2="1" y1="0" y2="0"><stop offset="0" stop-color="#7e2c0e"/><stop offset="0.15" stop-color="#a03f16"/><stop offset="0.5" stop-color="#b4501e"/><stop offset="0.85" stop-color="#9c3e16"/><stop offset="1" stop-color="#72260b"/></linearGradient><linearGradient id="cg" x1="0" x2="0" y1="0" y2="1"><stop offset="0" stop-color="#a6a6a6"/><stop offset="0.35" stop-color="#8e8e8e"/><stop offset="0.8" stop-color="#747474"/><stop offset="1" stop-color="#5a5a5a"/></linearGradient><linearGradient id="lg" x1="0" x2="1" y1="0" y2="0"><stop offset="0" stop-color="#f4f6f7"/><stop offset="0.7" stop-color="#eceff1"/><stop offset="1" stop-color="#d9dde0"/></linearGradient></defs>
<path d="M309.6,409 L341.6,409 L341.6,423 C350,427 355.5,433 355.5,441 L355.5,519 C355.5,524 352,527 347,527 L303,527 C298,527 294.5,524 294.5,519 L294.5,441 C294.5,433 300,427 309.6,423 Z" fill="url(#vg)" stroke="#5a200a" stroke-width="0.9"/>
<rect x="294.5" y="441" width="61" height="2" fill="#8a3510" opacity="0.8"/>
<path d="M315,412 L320,412 L320,428 L315,430 Z" fill="#e0a090" opacity="0.55"/>
<path d="M329,412 L334,412 L334,428 L329,427 Z" fill="#e0a090" opacity="0.45"/>
<path d="M303,436 C305,431 309,428 313,426 L313,440 L303,440 Z" fill="#d88a70" opacity="0.45"/>
<path d="M340,427 C345,430 350,434 351,440 L343,440 Z" fill="#e0a090" opacity="0.45"/>
<rect x="304.7" y="394.8" width="41.8" height="15.6" rx="3.5" fill="url(#cg)" stroke="#3a3a3a" stroke-width="0.9"/>
<path d="M316,396 L328,396 L322,405 Z" fill="#5a5a5a" opacity="0.45"/><rect x="307" y="396.5" width="8" height="3" rx="1.5" fill="#c8c8c8" opacity="0.6"/><rect x="334" y="396.5" width="9" height="3" rx="1.5" fill="#c8c8c8" opacity="0.6"/>
<rect x="298" y="451" width="56.5" height="64" fill="url(#lg)"/>
<text x="324.2" y="466.8" font-size="13.7" text-anchor="middle" fill="#1a1a1a" stroke="#1a1a1a" stroke-width="0.2">DOX</text>
<polygon points="327.6,485.5 321.0,489.3 314.4,485.5 314.4,477.9 321.0,474.1 327.6,477.9" fill="#f4a97b" stroke="#e8843a" stroke-width="1.2" stroke-linejoin="miter"/>
<polygon points="343.2,492.8 336.6,496.6 330.0,492.8 330.0,485.2 336.6,481.4 343.2,485.2" fill="#f4a97b" stroke="#e8843a" stroke-width="1.2" stroke-linejoin="miter"/>
<polygon points="329.3,503.6 322.7,507.4 316.1,503.6 316.1,496.0 322.7,492.2 329.3,496.0" fill="#f4a97b" stroke="#e8843a" stroke-width="1.2" stroke-linejoin="miter"/>
<g transform="translate(261.8,534.2) rotate(-14)">
<line x1="82" y1="0" x2="117" y2="0" stroke="#5a6080" stroke-width="1"/>
<rect x="2" y="-3.2" width="14" height="6.4" fill="#d9dae8" stroke="#3c3f6a" stroke-width="0.9"/>
<ellipse cx="1" cy="0" rx="4" ry="8.8" fill="#9a9dcc" stroke="#33366a" stroke-width="1"/>
<rect x="15" y="-7" width="63" height="14" fill="#f1f3f8" stroke="#5a5f88" stroke-width="0.9"/>
<rect x="17" y="-6.5" width="14" height="13" fill="#8a8fca"/>
<rect x="31" y="-6.5" width="3" height="13" fill="#6a6fb0"/>
<line x1="42" y1="-6.5" x2="42" y2="0" stroke="#8a8ea8" stroke-width="0.7"/>
<line x1="46" y1="-6.5" x2="46" y2="-2" stroke="#8a8ea8" stroke-width="0.7"/>
<line x1="50" y1="-6.5" x2="50" y2="0" stroke="#8a8ea8" stroke-width="0.7"/>
<line x1="54" y1="-6.5" x2="54" y2="-2" stroke="#8a8ea8" stroke-width="0.7"/>
<line x1="58" y1="-6.5" x2="58" y2="0" stroke="#8a8ea8" stroke-width="0.7"/>
<line x1="62" y1="-6.5" x2="62" y2="-2" stroke="#8a8ea8" stroke-width="0.7"/>
<line x1="66" y1="-6.5" x2="66" y2="0" stroke="#8a8ea8" stroke-width="0.7"/>
<line x1="70" y1="-6.5" x2="70" y2="-2" stroke="#8a8ea8" stroke-width="0.7"/>
<line x1="74" y1="-6.5" x2="74" y2="0" stroke="#8a8ea8" stroke-width="0.7"/>
<path d="M78,-4 L82,-2.5 L82,2.5 L78,4 Z" fill="#2c3070" stroke="#222" stroke-width="0.6"/>
<ellipse cx="13.5" cy="0" rx="4.5" ry="12.5" fill="#a0a3d0" stroke="#33366a" stroke-width="1"/>
</g>
<g id="heart">
<path d="M378.8,374 L411.7,374 L411.7,430 L378.8,430 Z" fill="#a6cde0" stroke="#2f3a40" stroke-width="0.9"/>
<ellipse cx="395.2" cy="374.2" rx="16.4" ry="3.6" fill="#7fb0cc" stroke="#2f3a40" stroke-width="0.9"/>
<ellipse cx="395.2" cy="375" rx="13" ry="2.2" fill="#4f88aa"/>
<path d="M387.5,505 L411,505 L413,557 C408,563 392,563 388,559 Z" fill="#a6cde0" stroke="#2f3a40" stroke-width="0.9"/>
<path d="M410.7,412 C411,395 412,380 415.3,371 C418,362 424,352 428,346 C430,340 428,335 426,332 C430,329 435,327.5 440,328 C442,333 446,339.5 451,339.5 C455,339.5 457,334 458,329 C460,325 462,321.5 466,321 C469,321 471,323 471,326 C471,332 472,339.5 474.5,339.5 C477,339.5 480,334 482,330 C485,328.5 489,329 491.5,332 C492,336 490,340 489,346 C493,350 497,357 499,366 C500,372 500.5,380 500,390 L440,412 Z" fill="#f15d3f" stroke="#5a2a20" stroke-width="0.9"/>
<path d="M411.5,413 L411.5,404 C420,402 428,403 433,407 C433,396 434,388 437.8,376.4 C441,370 446,365 456,360 C462,358 470,358 477.8,363 C481,365 483,367 484.5,369 L470,385 L442,420 Z" fill="#e2301c"/>
<defs><radialGradient id="ventg" cx="0.5" cy="0.42" r="0.62"><stop offset="0" stop-color="#f5e4e8"/><stop offset="0.75" stop-color="#f1d9df"/><stop offset="1" stop-color="#eac9d2"/></radialGradient></defs>
<path d="M431.4,443.3 C425,450 418.6,456 418.6,456 C410,466 402,478 400.8,490 C398,505 399,520 407.4,532.3 C416,542 425,547 436.3,550.8 C450,556 465,559 477.5,561.2 C495,565 507,569 518.8,569.4 C530,570 540,569 545.6,567.4 C552,563 555,556 555,548.8 C557,535 557,525 556,517.8 C553,495 547,472 539.4,456 C535,448 530,445 527,443.6 C520,438 515,434 510.5,433.3 C495,432 480,428 470,430 C455,432 440,436 431.4,443.3 Z" fill="url(#ventg)" stroke="#3a2a2e" stroke-width="0.9"/>
<path d="M412,538 C430,550 470,558 520,566" fill="none" stroke="#e9c2cc" stroke-width="1.5"/>
<path d="M440,442.5 C438.8,436 438.3,430 438.4,425 C438.5,418 439,412.8 439,412.8 C439.5,408 440,403 440.8,400.7 C441.5,394 442,390 442.6,388.5 C443,384 444,381 445,380 C446,378 447,377 447.5,376.4 C450,374 453,372 456,371 C459,370 461,369 463.3,369 L468,372 L473,371 C478,371 485,373 490,374 C496,376 501,378 505,380 C510,384 514,388 516.3,392.7 C517,397 516,400 514.8,403.4 C512,406 509,407.5 505.6,408 C501,405 496,401 491.8,399 C486,397 480,398 476,404 C475,408 475.4,412.8 475.4,412.8 C476,420 477,428 477.8,434.7 C475,437 473,438.5 470.5,439.5 C465,442 460,444 456,444.4 C450,444.5 445,443.5 440,442.5 Z" fill="#a3c9db" stroke="#2f3a40" stroke-width="0.9"/>
<path d="M439,427.4 C445,429 450,430 453.5,429.8 C460,429 465,427 468,425 C472,422 474,420.5 476.6,419 L477.8,434.7 C475,437 473,438.5 470.5,439.5 C465,442 460,444 456,444.4 C450,444.5 445,443.5 440,442.5 Z" fill="#7fb3d2"/>
<path d="M379.5,420.8 C388,418 395,418 400,417.4 C403,416 405,415 406,415 C410,412 415,408.2 419.7,408.2 C424,408 429,408.5 433.5,409.4 C437,411 439,413 439.2,415 C440,420 439,426 438,431 C436,438 434,443 431.2,447.2 C427,452 422,456 417.4,458.7 C410,466 405,472 401.3,479.4 C397,490 394.4,500 394.4,507 C394,513 393.5,518 393.3,520.7 C391,521 389,521 387.5,520.7 C382,516 378,512 376,507 C372,496 370.5,486 370.3,474.8 C370,465 370.5,458 371.5,451.8 C373,442 375,435 377.2,428.9 Z" fill="#b894b6" stroke="#3a2a3a" stroke-width="0.9"/>
<path d="M400,422 C408,414 420,410 430,411 C437,413 439,420 437,432 C435,442 428,450 420,455 C412,457 404,452 400,444 C397,436 397,428 400,422 Z" fill="#c6a8c6" opacity="0.85"/>
<path d="M398,442 C402,452 410,458 424,456" fill="none" stroke="#9a789a" stroke-width="3" stroke-linecap="round" opacity="0.6"/>
<ellipse cx="432" cy="426" rx="2.6" ry="5.5" fill="#ead9ea" opacity="0.9"/>
<ellipse cx="401" cy="453" rx="2.5" ry="5" fill="#dcc5dc" opacity="0.9" transform="rotate(-35 401 453)"/>
<path d="M380,468 L389,476 M381,490 L390,496 M384,505 L392,510" fill="none" stroke="#a17fa1" stroke-width="2.2" stroke-linecap="round" opacity="0.7"/>
<path d="M397.7,436 L401,431 L400,428 L404,425 L406,422.7" fill="none" stroke="#5a465a" stroke-width="0.7"/>
<path d="M475,402 C476,397 478,394 481,393.4 C486,393 491,395 495,399 C500,405 505,412 508,420 C510,425 511,428 510.2,431 C509,435 508,436 507,437 C502,437 498,437 495,436 C490,435 487,434 485,432 C480,430 478,428 476.5,426 C474,420 474,410 475,402 Z" fill="#c2a0c3" stroke="#3a2a3a" stroke-width="0.9"/>
<path d="M482.7,401.8 C480.5,406 480.5,414 485.7,421.7 C489,426 494,429 498,429.4 C502,430 506,428.5 507,426.3 C504,425 501,423 499.5,420.2 C495,416 492,412 490.3,409 C488.5,405 487,402 485.7,401 Z" fill="#a07ca4"/>
<path d="M431,445.6 C427,454 423,460 419.8,466.3 C414,476 409,482 407.4,486.9 C404,492 403,495 403.3,498 C404,510 406,518 409.4,522 C418,528 428,528 436.3,530.2 C444,533 448,540 452.8,542.6 C460,545 468,542 473.4,538.5 C480,533 486,528 490,522" fill="none" stroke="#7a2a22" stroke-width="2.8" stroke-linecap="round"/>
<path d="M431,445.6 C427,454 423,460 419.8,466.3 C414,476 409,482 407.4,486.9 C404,492 403,495 403.3,498 C404,510 406,518 409.4,522 C418,528 428,528 436.3,530.2 C444,533 448,540 452.8,542.6 C460,545 468,542 473.4,538.5 C480,533 486,528 490,522" fill="none" stroke="#c43d2e" stroke-width="1.6" stroke-linecap="round"/>
<path d="M419.8,466.3 C430,467 440,466 446.6,467.3 C452,468 458,468 463,468.3" fill="none" stroke="#7a2a22" stroke-width="2.8" stroke-linecap="round"/>
<path d="M419.8,466.3 C430,467 440,466 446.6,467.3 C452,468 458,468 463,468.3" fill="none" stroke="#c43d2e" stroke-width="1.6" stroke-linecap="round"/>
<path d="M405,493 C410,498 415,500 421.8,501.3 C430,503 436,505 442.5,507.5 C445,511 446,514 446.6,517.8" fill="none" stroke="#7a2a22" stroke-width="2.8" stroke-linecap="round"/>
<path d="M405,493 C410,498 415,500 421.8,501.3 C430,503 436,505 442.5,507.5 C445,511 446,514 446.6,517.8" fill="none" stroke="#c43d2e" stroke-width="1.6" stroke-linecap="round"/>
<path d="M485.8,431.2 C493,437 500,441 504.3,445.6 C507,449 507,452 506.4,456 C505,462 503,467 502.3,472.5 C500,478 498,484 498.2,489 C500,494 503,497 506.4,499.3 C510,502 514,504 516.7,507.5 C519,512 521,517 523,522 C526,528 529,532 531.2,536.4 C534,542 537,548 539.4,552.9" fill="none" stroke="#7a2a22" stroke-width="2.8" stroke-linecap="round"/>
<path d="M485.8,431.2 C493,437 500,441 504.3,445.6 C507,449 507,452 506.4,456 C505,462 503,467 502.3,472.5 C500,478 498,484 498.2,489 C500,494 503,497 506.4,499.3 C510,502 514,504 516.7,507.5 C519,512 521,517 523,522 C526,528 529,532 531.2,536.4 C534,542 537,548 539.4,552.9" fill="none" stroke="#c43d2e" stroke-width="1.6" stroke-linecap="round"/>
<path d="M504.3,445.6 C510,444 517,443 523,443.6 C526,445 528,447 530,449.8" fill="none" stroke="#7a2a22" stroke-width="2.8" stroke-linecap="round"/>
<path d="M504.3,445.6 C510,444 517,443 523,443.6 C526,445 528,447 530,449.8" fill="none" stroke="#c43d2e" stroke-width="1.6" stroke-linecap="round"/>
<path d="M516.7,493 C515,503 514,514 512.6,524 C506,530 498,535 492,539.5" fill="none" stroke="#7a2a22" stroke-width="2.8" stroke-linecap="round"/>
<path d="M516.7,493 C515,503 514,514 512.6,524 C506,530 498,535 492,539.5" fill="none" stroke="#c43d2e" stroke-width="1.6" stroke-linecap="round"/>
<rect x="387.5" y="467.5" width="160.5" height="54.3" fill="#cc3a47" opacity="0.74"/>
<text x="466" y="490.5" font-size="20" text-anchor="middle" fill="#ffffff" stroke="#ffffff" stroke-width="0.3">MYOCARDIAL</text>
<text x="468.5" y="513.5" font-size="20" text-anchor="middle" fill="#ffffff" stroke="#ffffff" stroke-width="0.3">DYSFUNCTION</text>
</g>
<path d="M610.30,477.60 A80.2,80.2 0 0 1 763.99,445.49 L772.48,443.47 L764.72,474.10 L741.90,452.97 L752.05,449.16 A67.8,67.8 0 0 0 622.70,477.60 Z" fill="#c5dcf6" stroke="#2e3440" stroke-width="1.1" stroke-linejoin="miter"/>
<path d="M770.70,478.30 A80.2,80.2 0 0 1 617.01,509.71 L608.52,511.73 L616.28,481.10 L639.10,502.23 L628.95,506.04 A67.8,67.8 0 0 0 758.30,478.19 Z" fill="#c5dcf6" stroke="#2e3440" stroke-width="1.1" stroke-linejoin="miter"/>
<text x="693.6" y="468.2" font-size="27.3" text-anchor="middle" fill="#111" stroke="#111" stroke-width="0.3">REDOX</text>
<text x="694.1" y="499.3" font-size="27.3" text-anchor="middle" fill="#111" stroke="#111" stroke-width="0.3">CYCLING</text>
<polygon points="806.3,408.6 788.8,424.4 766.4,417.1 761.5,394.0 779.0,378.2 801.4,385.5" fill="#f3a97a" stroke="#e97e2a" stroke-width="3.8" stroke-linejoin="miter"/>
<defs><radialGradient id="yg" cx="0.45" cy="0.4" r="0.6"><stop offset="0" stop-color="#fbf3b0"/><stop offset="1" stop-color="#e6d35c"/></radialGradient></defs>
<circle cx="777.6" cy="380.6" r="5.1" fill="url(#yg)" stroke="#5e5a30" stroke-width="1"/>
<circle cx="790.6" cy="423.2" r="5.1" fill="url(#yg)" stroke="#5e5a30" stroke-width="1"/>
<polygon points="634.3,555.3 625.9,577.3 602.5,581.0 587.7,562.7 596.1,540.7 619.5,537.0" fill="#f3a97a" stroke="#e97e2a" stroke-width="3.8" stroke-linejoin="miter"/>
<g id="membrane">
<path d="M290.3,775 L290.3,782.5 M286.5,797.5 L286.5,785 Q286.5,781.5 290.3,781.5 Q294.1,781.5 294.1,785 L294.1,797.5" fill="none" stroke="#7e7e86" stroke-width="1.8"/>
<path d="M290.3,827 L290.3,819.5 M286.5,805.5 L286.5,817 Q286.5,820.5 290.3,820.5 Q294.1,820.5 294.1,817 L294.1,805.5" fill="none" stroke="#7e7e86" stroke-width="1.8"/>
<path d="M308.2,775 L308.2,782.5 M304.4,797.5 L304.4,785 Q304.4,781.5 308.2,781.5 Q312.1,781.5 312.1,785 L312.1,797.5" fill="none" stroke="#7e7e86" stroke-width="1.8"/>
<path d="M308.2,827 L308.2,819.5 M304.4,805.5 L304.4,817 Q304.4,820.5 308.2,820.5 Q312.1,820.5 312.1,817 L312.1,805.5" fill="none" stroke="#7e7e86" stroke-width="1.8"/>
<path d="M326.2,775 L326.2,782.5 M322.4,797.5 L322.4,785 Q322.4,781.5 326.2,781.5 Q330.0,781.5 330.0,785 L330.0,797.5" fill="none" stroke="#7e7e86" stroke-width="1.8"/>
<path d="M326.2,827 L326.2,819.5 M322.4,805.5 L322.4,817 Q322.4,820.5 326.2,820.5 Q330.0,820.5 330.0,817 L330.0,805.5" fill="none" stroke="#7e7e86" stroke-width="1.8"/>
<path d="M344.1,775 L344.1,782.5 M340.3,797.5 L340.3,785 Q340.3,781.5 344.1,781.5 Q347.9,781.5 347.9,785 L347.9,797.5" fill="none" stroke="#7e7e86" stroke-width="1.8"/>
<path d="M344.1,827 L344.1,819.5 M340.3,805.5 L340.3,817 Q340.3,820.5 344.1,820.5 Q347.9,820.5 347.9,817 L347.9,805.5" fill="none" stroke="#7e7e86" stroke-width="1.8"/>
<path d="M362.1,775 L362.1,782.5 M358.3,797.5 L358.3,785 Q358.3,781.5 362.1,781.5 Q365.9,781.5 365.9,785 L365.9,797.5" fill="none" stroke="#7e7e86" stroke-width="1.8"/>
<path d="M362.1,827 L362.1,819.5 M358.3,805.5 L358.3,817 Q358.3,820.5 362.1,820.5 Q365.9,820.5 365.9,817 L365.9,805.5" fill="none" stroke="#7e7e86" stroke-width="1.8"/>
<path d="M380.1,775 L380.1,782.5 M376.2,797.5 L376.2,785 Q376.2,781.5 380.1,781.5 Q383.9,781.5 383.9,785 L383.9,797.5" fill="none" stroke="#7e7e86" stroke-width="1.8"/>
<path d="M380.1,827 L380.1,819.5 M376.2,805.5 L376.2,817 Q376.2,820.5 380.1,820.5 Q383.9,820.5 383.9,817 L383.9,805.5" fill="none" stroke="#7e7e86" stroke-width="1.8"/>
<path d="M398.0,775 L398.0,782.5 M394.2,797.5 L394.2,785 Q394.2,781.5 398.0,781.5 Q401.8,781.5 401.8,785 L401.8,797.5" fill="none" stroke="#7e7e86" stroke-width="1.8"/>
<path d="M398.0,827 L398.0,819.5 M394.2,805.5 L394.2,817 Q394.2,820.5 398.0,820.5 Q401.8,820.5 401.8,817 L401.8,805.5" fill="none" stroke="#7e7e86" stroke-width="1.8"/>
<path d="M415.9,775 L415.9,782.5 M412.1,797.5 L412.1,785 Q412.1,781.5 415.9,781.5 Q419.8,781.5 419.8,785 L419.8,797.5" fill="none" stroke="#7e7e86" stroke-width="1.8"/>
<path d="M415.9,827 L415.9,819.5 M412.1,805.5 L412.1,817 Q412.1,820.5 415.9,820.5 Q419.8,820.5 419.8,817 L419.8,805.5" fill="none" stroke="#7e7e86" stroke-width="1.8"/>
<path d="M433.9,775 L433.9,782.5 M430.1,797.5 L430.1,785 Q430.1,781.5 433.9,781.5 Q437.7,781.5 437.7,785 L437.7,797.5" fill="none" stroke="#7e7e86" stroke-width="1.8"/>
<path d="M433.9,827 L433.9,819.5 M430.1,805.5 L430.1,817 Q430.1,820.5 433.9,820.5 Q437.7,820.5 437.7,817 L437.7,805.5" fill="none" stroke="#7e7e86" stroke-width="1.8"/>
<path d="M451.9,775 L451.9,782.5 M448.1,797.5 L448.1,785 Q448.1,781.5 451.9,781.5 Q455.7,781.5 455.7,785 L455.7,797.5" fill="none" stroke="#7e7e86" stroke-width="1.8"/>
<path d="M451.9,827 L451.9,819.5 M448.1,805.5 L448.1,817 Q448.1,820.5 451.9,820.5 Q455.7,820.5 455.7,817 L455.7,805.5" fill="none" stroke="#7e7e86" stroke-width="1.8"/>
<path d="M469.8,775 L469.8,782.5 M466.0,797.5 L466.0,785 Q466.0,781.5 469.8,781.5 Q473.6,781.5 473.6,785 L473.6,797.5" fill="none" stroke="#7e7e86" stroke-width="1.8"/>
<path d="M469.8,827 L469.8,819.5 M466.0,805.5 L466.0,817 Q466.0,820.5 469.8,820.5 Q473.6,820.5 473.6,817 L473.6,805.5" fill="none" stroke="#7e7e86" stroke-width="1.8"/>
<path d="M487.8,775 L487.8,782.5 M483.9,797.5 L483.9,785 Q483.9,781.5 487.8,781.5 Q491.6,781.5 491.6,785 L491.6,797.5" fill="none" stroke="#7e7e86" stroke-width="1.8"/>
<path d="M487.8,827 L487.8,819.5 M483.9,805.5 L483.9,817 Q483.9,820.5 487.8,820.5 Q491.6,820.5 491.6,817 L491.6,805.5" fill="none" stroke="#7e7e86" stroke-width="1.8"/>
<path d="M505.7,775 L505.7,782.5 M501.9,797.5 L501.9,785 Q501.9,781.5 505.7,781.5 Q509.5,781.5 509.5,785 L509.5,797.5" fill="none" stroke="#7e7e86" stroke-width="1.8"/>
<path d="M505.7,827 L505.7,819.5 M501.9,805.5 L501.9,817 Q501.9,820.5 505.7,820.5 Q509.5,820.5 509.5,817 L509.5,805.5" fill="none" stroke="#7e7e86" stroke-width="1.8"/>
<path d="M523.6,775 L523.6,782.5 M519.9,797.5 L519.9,785 Q519.9,781.5 523.6,781.5 Q527.4,781.5 527.4,785 L527.4,797.5" fill="none" stroke="#7e7e86" stroke-width="1.8"/>
<path d="M523.6,827 L523.6,819.5 M519.9,805.5 L519.9,817 Q519.9,820.5 523.6,820.5 Q527.4,820.5 527.4,817 L527.4,805.5" fill="none" stroke="#7e7e86" stroke-width="1.8"/>
<circle cx="290.3" cy="767.5" r="8.4" fill="#f2a30f" stroke="#a8720c" stroke-width="0.8"/>
<circle cx="286.8" cy="764.5" r="2.7" fill="#fffbe8"/>
<circle cx="290.3" cy="835.2" r="8.4" fill="#f2a30f" stroke="#a8720c" stroke-width="0.8"/>
<circle cx="293.3" cy="838.2" r="2.7" fill="#fffbe8"/>
<circle cx="308.2" cy="767.5" r="8.4" fill="#f2a30f" stroke="#a8720c" stroke-width="0.8"/>
<circle cx="304.8" cy="764.5" r="2.7" fill="#fffbe8"/>
<circle cx="308.2" cy="835.2" r="8.4" fill="#f2a30f" stroke="#a8720c" stroke-width="0.8"/>
<circle cx="311.2" cy="838.2" r="2.7" fill="#fffbe8"/>
<circle cx="326.2" cy="767.5" r="8.4" fill="#f2a30f" stroke="#a8720c" stroke-width="0.8"/>
<circle cx="322.7" cy="764.5" r="2.7" fill="#fffbe8"/>
<circle cx="326.2" cy="835.2" r="8.4" fill="#f2a30f" stroke="#a8720c" stroke-width="0.8"/>
<circle cx="329.2" cy="838.2" r="2.7" fill="#fffbe8"/>
<circle cx="344.1" cy="767.5" r="8.4" fill="#f2a30f" stroke="#a8720c" stroke-width="0.8"/>
<circle cx="340.6" cy="764.5" r="2.7" fill="#fffbe8"/>
<circle cx="344.1" cy="835.2" r="8.4" fill="#f2a30f" stroke="#a8720c" stroke-width="0.8"/>
<circle cx="347.1" cy="838.2" r="2.7" fill="#fffbe8"/>
<circle cx="362.1" cy="767.5" r="8.4" fill="#f2a30f" stroke="#a8720c" stroke-width="0.8"/>
<circle cx="358.6" cy="764.5" r="2.7" fill="#fffbe8"/>
<circle cx="362.1" cy="835.2" r="8.4" fill="#f2a30f" stroke="#a8720c" stroke-width="0.8"/>
<circle cx="365.1" cy="838.2" r="2.7" fill="#fffbe8"/>
<circle cx="380.1" cy="767.5" r="8.4" fill="#f2a30f" stroke="#a8720c" stroke-width="0.8"/>
<circle cx="376.6" cy="764.5" r="2.7" fill="#fffbe8"/>
<circle cx="380.1" cy="835.2" r="8.4" fill="#f2a30f" stroke="#a8720c" stroke-width="0.8"/>
<circle cx="383.1" cy="838.2" r="2.7" fill="#fffbe8"/>
<circle cx="398.0" cy="767.5" r="8.4" fill="#f2a30f" stroke="#a8720c" stroke-width="0.8"/>
<circle cx="394.5" cy="764.5" r="2.7" fill="#fffbe8"/>
<circle cx="398.0" cy="835.2" r="8.4" fill="#f2a30f" stroke="#a8720c" stroke-width="0.8"/>
<circle cx="401.0" cy="838.2" r="2.7" fill="#fffbe8"/>
<circle cx="415.9" cy="767.5" r="8.4" fill="#f2a30f" stroke="#a8720c" stroke-width="0.8"/>
<circle cx="412.4" cy="764.5" r="2.7" fill="#fffbe8"/>
<circle cx="415.9" cy="835.2" r="8.4" fill="#f2a30f" stroke="#a8720c" stroke-width="0.8"/>
<circle cx="418.9" cy="838.2" r="2.7" fill="#fffbe8"/>
<circle cx="433.9" cy="767.5" r="8.4" fill="#f2a30f" stroke="#a8720c" stroke-width="0.8"/>
<circle cx="430.4" cy="764.5" r="2.7" fill="#fffbe8"/>
<circle cx="433.9" cy="835.2" r="8.4" fill="#f2a30f" stroke="#a8720c" stroke-width="0.8"/>
<circle cx="436.9" cy="838.2" r="2.7" fill="#fffbe8"/>
<circle cx="451.9" cy="767.5" r="8.4" fill="#f2a30f" stroke="#a8720c" stroke-width="0.8"/>
<circle cx="448.4" cy="764.5" r="2.7" fill="#fffbe8"/>
<circle cx="451.9" cy="835.2" r="8.4" fill="#f2a30f" stroke="#a8720c" stroke-width="0.8"/>
<circle cx="454.9" cy="838.2" r="2.7" fill="#fffbe8"/>
<circle cx="469.8" cy="767.5" r="8.4" fill="#f2a30f" stroke="#a8720c" stroke-width="0.8"/>
<circle cx="466.3" cy="764.5" r="2.7" fill="#fffbe8"/>
<circle cx="469.8" cy="835.2" r="8.4" fill="#f2a30f" stroke="#a8720c" stroke-width="0.8"/>
<circle cx="472.8" cy="838.2" r="2.7" fill="#fffbe8"/>
<circle cx="487.8" cy="767.5" r="8.4" fill="#f2a30f" stroke="#a8720c" stroke-width="0.8"/>
<circle cx="484.2" cy="764.5" r="2.7" fill="#fffbe8"/>
<circle cx="487.8" cy="835.2" r="8.4" fill="#f2a30f" stroke="#a8720c" stroke-width="0.8"/>
<circle cx="490.8" cy="838.2" r="2.7" fill="#fffbe8"/>
<circle cx="505.7" cy="767.5" r="8.4" fill="#f2a30f" stroke="#a8720c" stroke-width="0.8"/>
<circle cx="502.2" cy="764.5" r="2.7" fill="#fffbe8"/>
<circle cx="505.7" cy="835.2" r="8.4" fill="#f2a30f" stroke="#a8720c" stroke-width="0.8"/>
<circle cx="508.7" cy="838.2" r="2.7" fill="#fffbe8"/>
<circle cx="523.6" cy="767.5" r="8.4" fill="#f2a30f" stroke="#a8720c" stroke-width="0.8"/>
<circle cx="520.1" cy="764.5" r="2.7" fill="#fffbe8"/>
<circle cx="523.6" cy="835.2" r="8.4" fill="#f2a30f" stroke="#a8720c" stroke-width="0.8"/>
<circle cx="526.6" cy="838.2" r="2.7" fill="#fffbe8"/>
</g>
<path d="M334,748 Q334,743 339,743 L346,743 L356,762.5 L368,743 L377.4,743 Q382.4,743 382.4,748 L382.4,852.6 Q382.4,857.6 377.4,857.6 L339,857.6 Q334,857.6 334,852.6 Z" fill="#3e6fa7" stroke="#1d3a62" stroke-width="1.1"/><path d="M376.4,746 Q381.4,744 381.9,749 L381.9,852.6 Q381.4,856.6 376.4,856.6 Z" fill="#2b558c"/><path d="M336.5,849.6 L336.5,749 Q337,745.5 341,745.5 L347,745.5" fill="none" stroke="#8fb4dc" stroke-width="1.1" opacity="0.8"/><path d="M369,745.5 L375.4,745.5" fill="none" stroke="#8fb4dc" stroke-width="1.1" opacity="0.8"/><path d="M347.5,744.5 L356,759.5 L366.5,744.5" fill="none" stroke="#a8c4e4" stroke-width="1.3" opacity="0.9"/>
<path d="M433,748 Q433,743 438,743 L445,743 L456,761.5 L468,743 L475,743 Q480,743 480,748 L480,852.6 Q480,857.6 475,857.6 L438,857.6 Q433,857.6 433,852.6 Z" fill="#3e6fa7" stroke="#1d3a62" stroke-width="1.1"/><path d="M474,746 Q479,744 479.5,749 L479.5,852.6 Q479,856.6 474,856.6 Z" fill="#2b558c"/><path d="M435.5,849.6 L435.5,749 Q436,745.5 440,745.5 L446,745.5" fill="none" stroke="#8fb4dc" stroke-width="1.1" opacity="0.8"/><path d="M469,745.5 L473,745.5" fill="none" stroke="#8fb4dc" stroke-width="1.1" opacity="0.8"/><path d="M446.5,744.5 L456,758.5 L466.5,744.5" fill="none" stroke="#a8c4e4" stroke-width="1.3" opacity="0.9"/>
<polygon points="346.3,724.8 375.8,724.8 359.4,755" fill="#4677b0" stroke="#1d3a62" stroke-width="1"/>
<polygon points="348,726 374,726 371,731 351,731" fill="#93b4da"/><path d="M356,736 C360,733 366,733 368,737" fill="none" stroke="#6a96c6" stroke-width="2" opacity="0.7"/>
<polygon points="455.3,691.9 451.0,703.3 438.9,705.2 431.3,695.7 435.6,684.3 447.7,682.4" fill="#f4a97b" stroke="#e8843a" stroke-width="2.1" stroke-linejoin="miter"/>
<polygon points="483.0,680.0 478.7,691.4 466.6,693.3 459.0,683.8 463.3,672.4 475.4,670.5" fill="#f4a97b" stroke="#e8843a" stroke-width="2.1" stroke-linejoin="miter"/>
<polygon points="484.2,716.3 474.1,723.2 463.1,717.8 462.2,705.7 472.3,698.8 483.3,704.2" fill="#f4a97b" stroke="#e8843a" stroke-width="2.1" stroke-linejoin="miter"/>
</svg></body></html>
